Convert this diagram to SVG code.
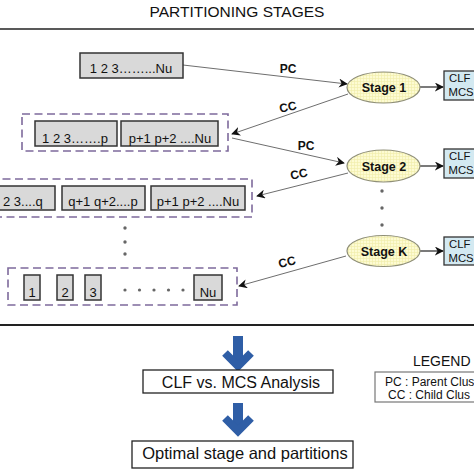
<svg xmlns="http://www.w3.org/2000/svg" width="474" height="474" viewBox="0 0 474 474">
<style>
text{font-family:"Liberation Sans",Arial,sans-serif;fill:#111}
.box{fill:#d9d9d9;stroke:#333;stroke-width:1.5}
.dash{fill:none;stroke:#7e6a9c;stroke-width:1.6;stroke-dasharray:8 4.5}
.stage{fill:url(#grid);stroke:#8f8f78;stroke-width:1.2}
.clf{fill:#d3e9f1;stroke:#333;stroke-width:1.3}
.conn{stroke:#6e6e6e;stroke-width:1;fill:none}
.out{stroke:#222;stroke-width:1.2;fill:none}
.lbl{font-size:12px;font-weight:bold}
.bt{font-size:13px;text-anchor:middle}
.st{font-size:12.5px;font-weight:bold;text-anchor:middle}
.cm{font-size:11.3px}
.dot{fill:#666}
.blue{stroke:#2f5ea6;fill:none}
.frame{fill:#fff;stroke:#222;stroke-width:1.3}
</style>
<defs>
<pattern id="grid" width="3" height="3" patternUnits="userSpaceOnUse">
<rect width="3" height="3" fill="#fdfbd2"/>
<path d="M0 0.5H3M0.5 0V3" stroke="#f0eca8" stroke-width="0.6"/>
</pattern>
<marker id="ah" viewBox="0 0 10 10" refX="9" refY="5" markerWidth="9" markerHeight="9" markerUnits="userSpaceOnUse" orient="auto">
<path d="M0 0L10 5L0 10L3 5Z" fill="#111"/>
</marker>
</defs>

<text x="237" y="17" style="font-size:15.5px" text-anchor="middle">PARTITIONING STAGES</text>
<line x1="0" y1="29" x2="474" y2="29" stroke="#222" stroke-width="1.5"/>

<g id="connectors">
<line class="conn" x1="183" y1="65" x2="347" y2="84" marker-end="url(#ah)"/>
<line class="conn" x1="348" y1="94" x2="232" y2="134" marker-end="url(#ah)"/>
<line class="conn" x1="232" y1="138" x2="344" y2="163" marker-end="url(#ah)"/>
<line class="conn" x1="348" y1="173" x2="257" y2="196" marker-end="url(#ah)"/>
<line class="conn" x1="346" y1="256" x2="239" y2="286" marker-end="url(#ah)"/>
<line class="out" x1="420" y1="87" x2="443" y2="87" marker-end="url(#ah)"/>
<line class="out" x1="420" y1="166" x2="443" y2="166" marker-end="url(#ah)"/>
<line class="out" x1="420" y1="251" x2="443" y2="251" marker-end="url(#ah)"/>
<text class="lbl" x="288" y="73" text-anchor="middle">PC</text>
<text class="lbl" x="288" y="111" text-anchor="middle" transform="rotate(-12 288 107)">CC</text>
<text class="lbl" x="306" y="150" text-anchor="middle">PC</text>
<text class="lbl" x="299" y="178" text-anchor="middle" transform="rotate(-12 299 174)">CC</text>
<text class="lbl" x="287" y="266" text-anchor="middle" transform="rotate(-14 287 262)">CC</text>
</g>

<g id="top-box">
<rect class="box" x="80" y="53" width="103" height="25"/>
<text class="bt" x="131" y="73">1 2 3……...Nu</text>
</g>

<g id="partition-1">
<rect class="dash" x="22" y="114" width="206" height="37"/>
<rect class="box" x="35" y="121" width="82" height="25"/>
<text class="bt" x="75" y="143">1 2 3…….p</text>
<rect class="box" x="121" y="121" width="97" height="25"/>
<text class="bt" x="170" y="143">p+1 p+2 ....Nu</text>
</g>

<g id="partition-2">
<rect class="dash" x="-10" y="179" width="262" height="38"/>
<rect class="box" x="-30" y="186" width="85" height="24"/>
<text x="3" y="206" style="font-size:13px">2 3....q</text>
<rect class="box" x="62" y="186" width="83" height="24"/>
<text class="bt" x="103" y="206">q+1 q+2....p</text>
<rect class="box" x="151" y="186" width="94" height="24"/>
<text class="bt" x="198" y="206">p+1 p+2 ....Nu</text>
</g>

<g id="dots-left">
<circle class="dot" cx="125" cy="228" r="1.7"/>
<circle class="dot" cx="125" cy="242" r="1.7"/>
<circle class="dot" cx="125" cy="254" r="1.7"/>
</g>

<g id="partition-k">
<rect class="dash" x="8" y="268" width="229" height="37"/>
<rect class="box" x="24" y="275" width="16" height="25"/>
<text class="bt" x="32" y="297">1</text>
<rect class="box" x="57" y="275" width="16" height="25"/>
<text class="bt" x="65" y="297">2</text>
<rect class="box" x="85" y="275" width="16" height="25"/>
<text class="bt" x="93" y="297">3</text>
<circle class="dot" cx="125" cy="290" r="1.6"/>
<circle class="dot" cx="139.5" cy="290" r="1.6"/>
<circle class="dot" cx="154" cy="290" r="1.6"/>
<circle class="dot" cx="168.5" cy="290" r="1.6"/>
<circle class="dot" cx="183" cy="290" r="1.6"/>
<rect class="box" x="194" y="275" width="28" height="25"/>
<text class="bt" x="208" y="297">Nu</text>
</g>

<g id="stage-1">
<ellipse class="stage" cx="383.5" cy="87.5" rx="36.5" ry="15.5"/>
<text class="st" x="384" y="92">Stage 1</text>
</g>
<g id="stage-2">
<ellipse class="stage" cx="383.5" cy="166" rx="36.5" ry="16"/>
<text class="st" x="384" y="170.5">Stage 2</text>
</g>
<g id="dots-right">
<circle class="dot" cx="382" cy="191" r="1.7"/>
<circle class="dot" cx="382" cy="208" r="1.7"/>
<circle class="dot" cx="382" cy="225" r="1.7"/>
</g>
<g id="stage-k">
<ellipse class="stage" cx="383.5" cy="251" rx="36.5" ry="15.5"/>
<text class="st" x="384" y="255.5">Stage K</text>
</g>

<g id="clf-1">
<rect class="clf" x="444" y="71" width="40" height="29"/>
<text class="cm" x="449" y="82">CLF</text>
<text class="cm" x="448.5" y="96">MCS</text>
</g>
<g id="clf-2">
<rect class="clf" x="444" y="149" width="40" height="29"/>
<text class="cm" x="449" y="160">CLF</text>
<text class="cm" x="448.5" y="174">MCS</text>
</g>
<g id="clf-k">
<rect class="clf" x="444" y="237" width="40" height="28"/>
<text class="cm" x="449" y="248">CLF</text>
<text class="cm" x="448.5" y="262">MCS</text>
</g>

<line x1="0" y1="325" x2="474" y2="325" stroke="#222" stroke-width="2"/>

<g id="blue-arrows">
<path class="blue" d="M238 336V364" stroke-width="10"/>
<path class="blue" d="M225 353L238 366L251 353" stroke-width="8"/>
<path class="blue" d="M238 403V429" stroke-width="10"/>
<path class="blue" d="M225 418L238 431L251 418" stroke-width="8"/>
</g>

<g id="analysis">
<rect class="frame" x="143" y="370" width="190" height="23"/>
<text x="241" y="388" style="font-size:16px" text-anchor="middle">CLF vs. MCS Analysis</text>
</g>
<g id="optimal">
<rect class="frame" x="132" y="441" width="221" height="27"/>
<text x="245" y="459" style="font-size:16.5px" text-anchor="middle">Optimal stage and partitions</text>
</g>

<g id="legend">
<text x="413" y="366" style="font-size:14px">LEGEND</text>
<rect x="375" y="372" width="110" height="30" fill="#fff" stroke="#777" stroke-width="1.2"/>
<text class="cm" x="385" y="386" style="font-size:12px">PC : Parent Clus</text>
<text class="cm" x="388" y="399" style="font-size:12px">CC : Child Clus</text>
</g>
</svg>
